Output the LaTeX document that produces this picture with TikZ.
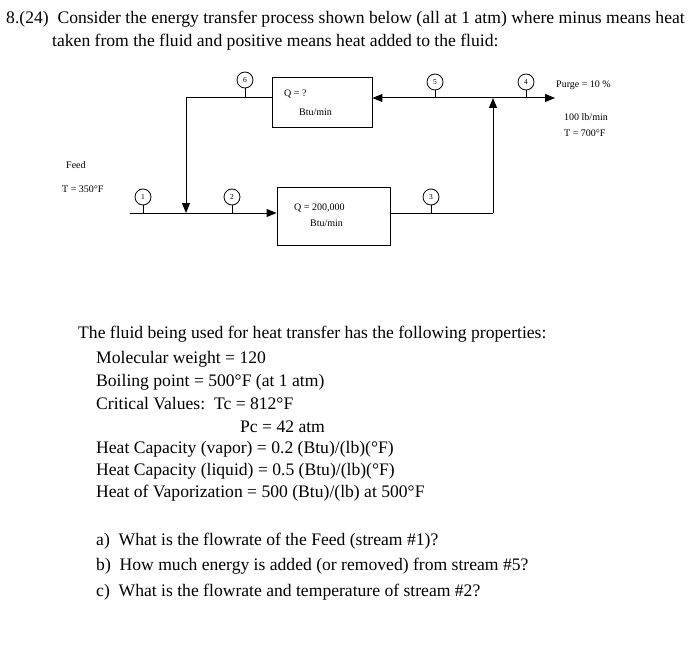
\documentclass[tikz,border=0pt]{standalone}
\usepackage{fontspec}
\setmainfont{Liberation Serif}
\usetikzlibrary{arrows.meta}
\begin{document}
\begin{tikzpicture}[x=1pt,y=-1pt,
  line/.style={line width=1pt},
  arr/.style={line width=1pt,-{Triangle[length=10pt,width=8pt]}},
  box/.style={draw,line width=0.9pt,minimum width=#1,inner sep=0pt},
  num/.style={draw,circle,line width=0.8pt,minimum size=16pt,inner sep=0pt,font=\fontsize{7.5}{8}\selectfont},
  small/.style={font=\fontsize{10}{12}\selectfont,align=left,inner sep=0pt,anchor=west},
  body/.style={font=\fontsize{17.6}{19}\selectfont,anchor=west,inner sep=0pt}]
\useasboundingbox (0,0) rectangle (700,647);
% boxes
\node[box=100pt,minimum height=50pt] (top) at (322,102) {};
\node[box=113pt,minimum height=58pt] (bot) at (333.5,216) {};
\node[small] at (284,94) {Q = ?};
\node[small] at (299,112) {Btu/min};
\node[small] at (294,208) {Q = 200,000};
\node[small] at (310,223) {Btu/min};
% coordinates
\coordinate (f0) at (130,213);
\coordinate (j1) at (186,213);
\coordinate (j6) at (186,98);
\coordinate (b3) at (493,213);
\coordinate (j4) at (493,98);
\coordinate (out) at (555,98);
\draw[line] (f0) -- (j1);
\draw[arr] (j1) -- (bot.west|-j1);
\draw[line] (top.west|-j6) -- (j6);
\draw[arr] (j6) -- (j1);
\draw[line] (bot.east|-b3) -- (b3);
\draw[arr] (b3) -- (j4);
\draw[arr] (j4) -- (top.east|-j4);
\draw[arr] (j4) -- (out);
% stream numbers
\foreach \n/\x/\y/\yl in {6/245/80/98,5/435/82/98,4/526/82/98,1/143/197/213,2/232/197/213,3/431/197/213}{
  \node[num] (s\n) at (\x,\y) {\n};
  \draw[line] (s\n.south) -- (\x,\yl);
}
\node[small] at (556,85) {Purge = 10 \%};
\node[small] at (564,117) {100 lb/min};
\node[small] at (564,133) {T = 700°F};
\node[small] at (66,165) {Feed};
\node[small] at (62,189) {T = 350°F};
% text
\node[body] at (6,19) {8.(24)\enspace Consider the energy transfer process shown below (all at 1 atm) where minus means heat};
\node[body] at (52,42) {taken from the fluid and positive means heat added to the fluid:};
\node[body] at (78,334) {The fluid being used for heat transfer has the following properties:};
\node[body] at (96,359) {Molecular weight = 120};
\node[body] at (96,382) {Boiling point = 500°F (at 1 atm)};
\node[body] at (96,404) {Critical Values:\enspace Tc = 812°F};
\node[body] at (240,427) {Pc = 42 atm};
\node[body] at (96,449) {Heat Capacity (vapor) = 0.2 (Btu)/(lb)(°F)};
\node[body] at (96,471) {Heat Capacity (liquid) = 0.5 (Btu)/(lb)(°F)};
\node[body] at (96,493) {Heat of Vaporization = 500 (Btu)/(lb) at 500°F};
\node[body] at (96,541) {a)\enspace What is the flowrate of the Feed (stream \#1)?};
\node[body] at (96,566) {b)\enspace How much energy is added (or removed) from stream \#5?};
\node[body] at (96,592) {c)\enspace What is the flowrate and temperature of stream \#2?};
\end{tikzpicture}
\end{document}
